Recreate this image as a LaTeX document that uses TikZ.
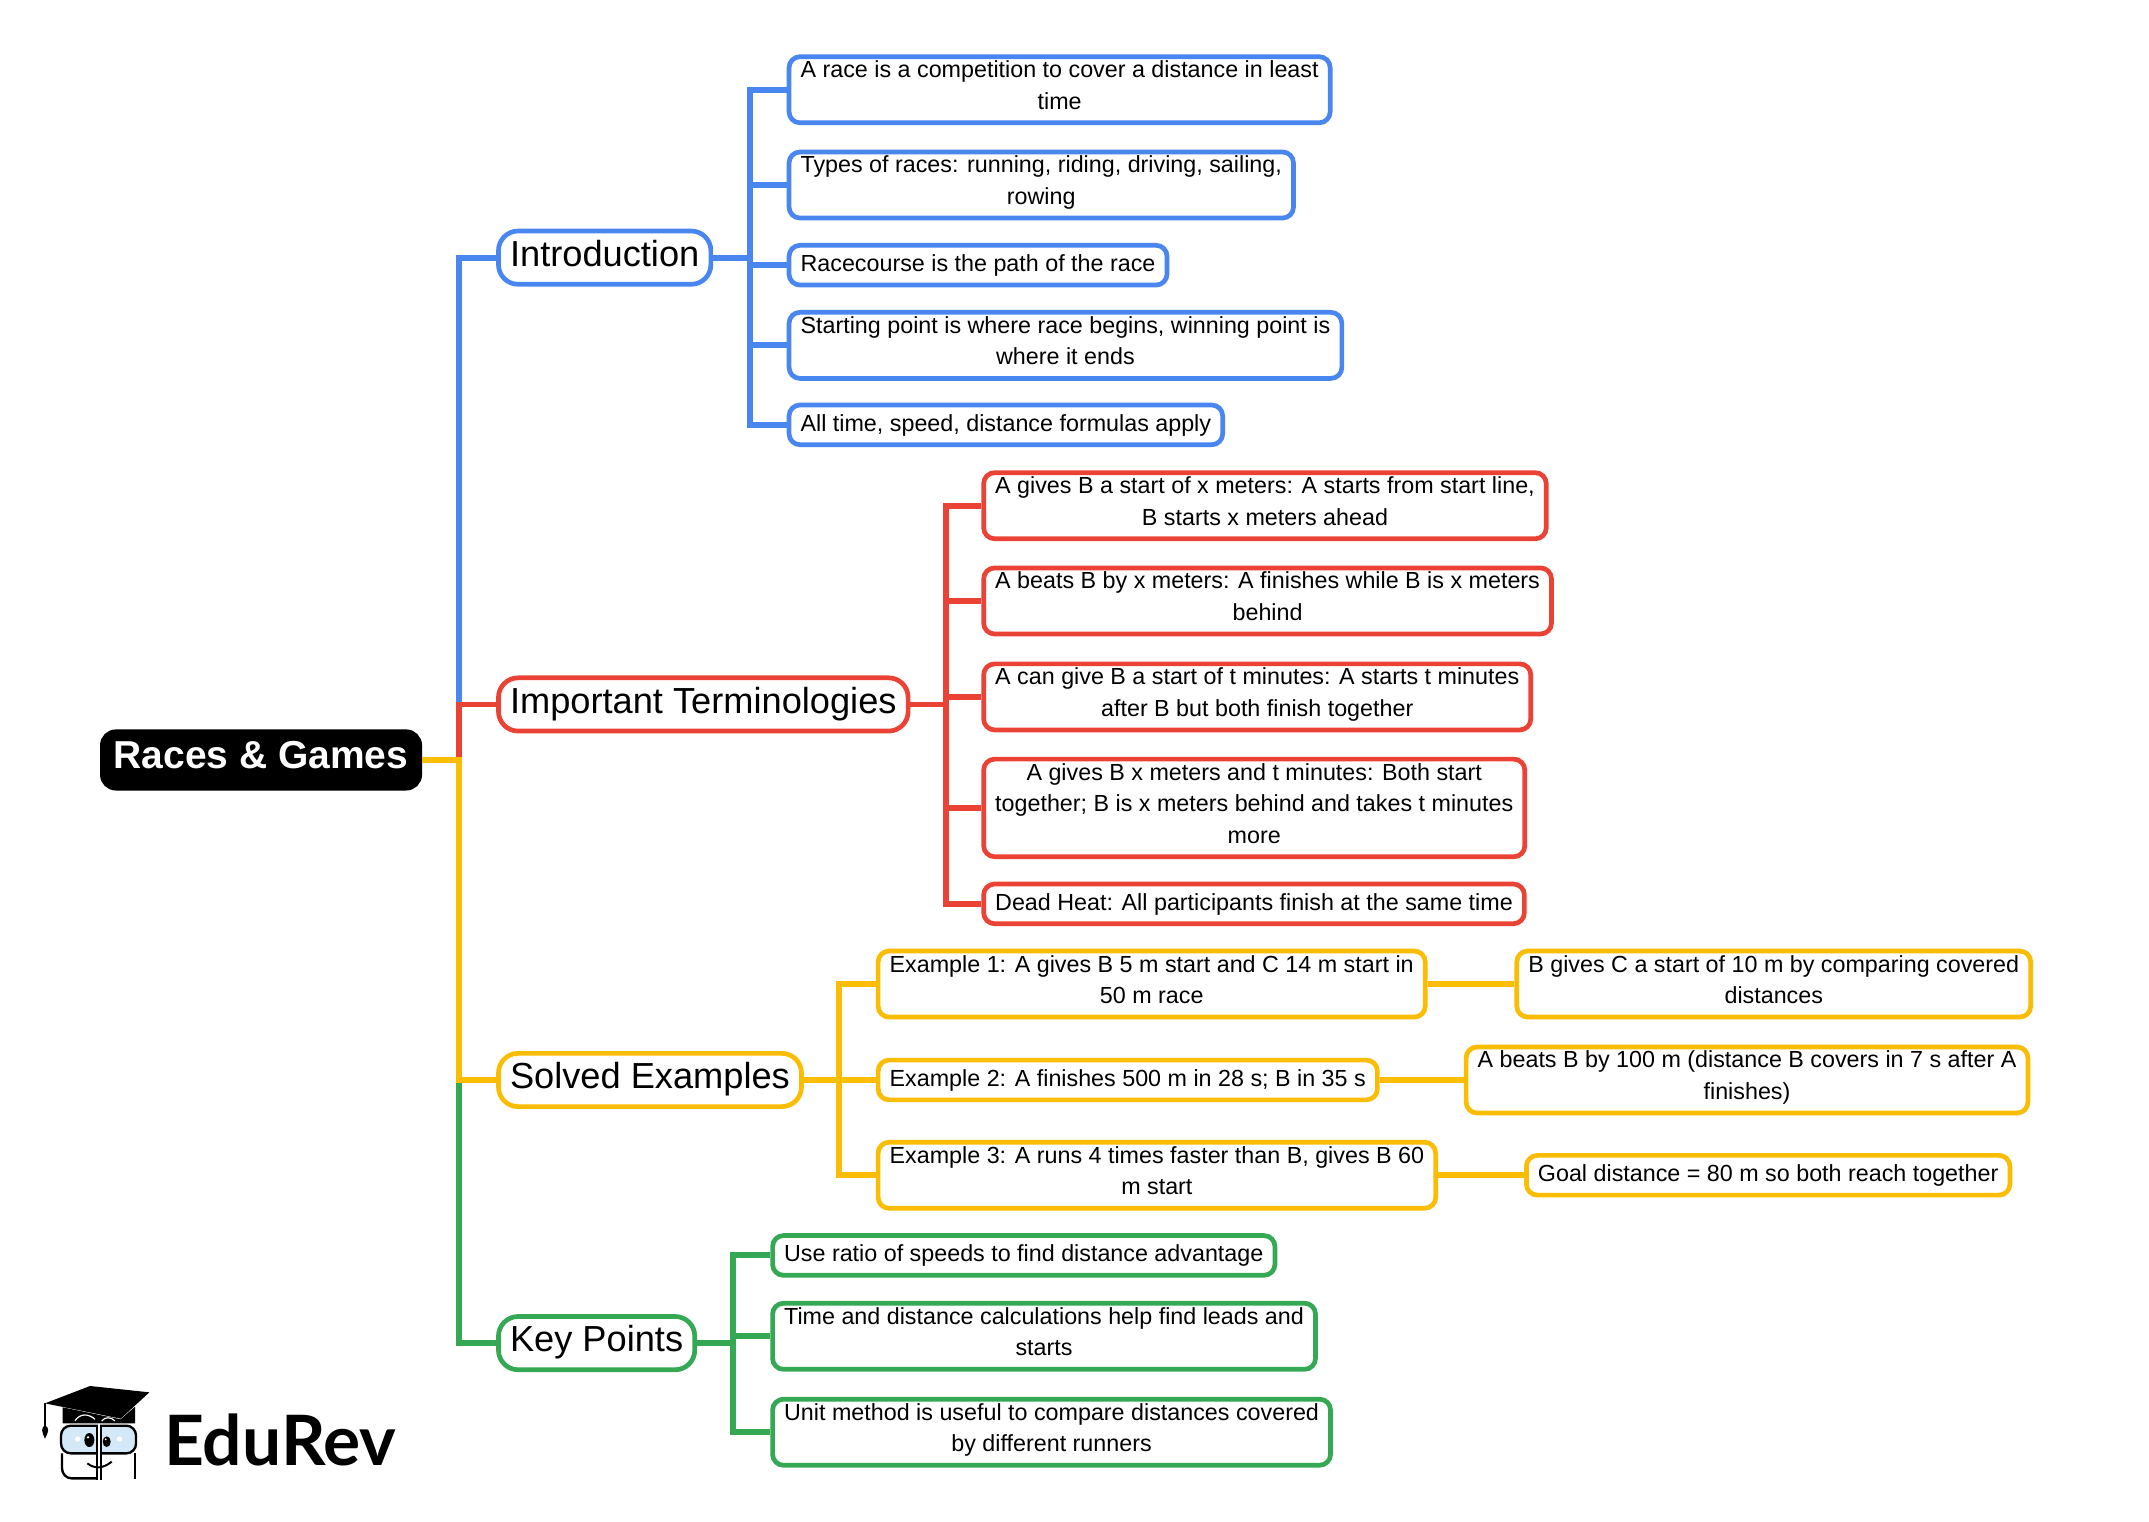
\documentclass[tikz,border=0pt]{standalone}
\usepackage{fontspec}
\usepackage{xcolor}
\setmainfont{Liberation Sans}
\newfontfamily\logofont{Lato}

\definecolor{introblue}{HTML}{4A86F0}
\definecolor{termred}{HTML}{EA4335}
\definecolor{solvedyellow}{HTML}{FBBC04}
\definecolor{keygreen}{HTML}{34A853}
\definecolor{glassblue}{HTML}{D3E9F7}

\tikzset{
    rootbox/.style={draw=black, fill=black, text=white, anchor=west, line width=2.2pt,
        rounded corners=7pt, inner xsep=5.9pt, inner ysep=3pt,
        font=\fontsize{19.9}{23}\selectfont\bfseries,
        execute at begin node=\strut},
    branchbox/.style={draw=#1, anchor=west, line width=2.4pt, rounded corners=10pt,
        inner xsep=5.9pt, inner ysep=2.6pt,
        font=\fontsize{18.5}{22}\selectfont,
        execute at begin node=\strut},
    leafbox/.style={draw=#1, anchor=west, line width=2.4pt, rounded corners=5.6pt,
        inner xsep=5.9pt, inner ysep=2.1pt, align=center,
        font=\fontsize{11.9}{16.1}\selectfont,
        execute at begin node=\strut, execute at end node=\strut},
    link/.style={draw=#1, line width=3pt}
}

\begin{document}
\begin{tikzpicture}[x=0.7pt, y=-0.7pt]
    \useasboundingbox (0,0) rectangle (1568,1109.8);

    % centre and main branches
    \node[rootbox] (root) at (73,554.5) {Races \& Games};
    \node[branchbox=introblue] (intro) at (362,188) {Introduction};
    \node[branchbox=termred] (termin) at (362,514) {Important Terminologies};
    \node[branchbox=solvedyellow] (solved) at (362,788) {Solved Examples};
    \node[branchbox=keygreen] (keypts) at (362,980) {Key Points};

    % introduction
    \node[leafbox=introblue] (intro1) at (574,65.5) {A race is a competition to cover a distance in least\\time};
    \node[leafbox=introblue] (intro2) at (574,135) {Types of races: running, riding, driving, sailing,\\rowing};
    \node[leafbox=introblue] (intro3) at (574,193.5) {Racecourse is the path of the race};
    \node[leafbox=introblue] (intro4) at (574,252) {Starting point is where race begins, winning point is\\where it ends};
    \node[leafbox=introblue] (intro5) at (574,310) {All time, speed, distance formulas apply};

    % terminologies
    \node[leafbox=termred] (termin1) at (716,369) {A gives B a start of x meters: A starts from start line,\\B starts x meters ahead};
    \node[leafbox=termred] (termin2) at (716,438.5) {A beats B by x meters: A finishes while B is x meters\\behind};
    \node[leafbox=termred] (termin3) at (716,508.5) {A can give B a start of t minutes: A starts t minutes\\after B but both finish together};
    \node[leafbox=termred] (termin4) at (716,589.5) {A gives B x meters and t minutes: Both start\\together; B is x meters behind and takes t minutes\\more};
    \node[leafbox=termred] (termin5) at (716,659.5) {Dead Heat: All participants finish at the same time};

    % examples
    \node[leafbox=solvedyellow] (solved1) at (639,718) {Example 1: A gives B 5 m start and C 14 m start in\\50 m race};
    \node[leafbox=solvedyellow] (solved2) at (639,788) {Example 2: A finishes 500 m in 28 s; B in 35 s};
    \node[leafbox=solvedyellow] (solved3) at (639,857.5) {Example 3: A runs 4 times faster than B, gives B 60\\m start};
    \node[leafbox=solvedyellow] (answer1) at (1105,718) {B gives C a start of 10 m by comparing covered\\distances};
    \node[leafbox=solvedyellow] (answer2) at (1068,788) {A beats B by 100 m (distance B covers in 7 s after A\\finishes)};
    \node[leafbox=solvedyellow] (answer3) at (1112,857.5) {Goal distance = 80 m so both reach together};

    % key points
    \node[leafbox=keygreen] (keypts1) at (562,916) {Use ratio of speeds to find distance advantage};
    \node[leafbox=keygreen] (keypts2) at (562,975) {Time and distance calculations help find leads and\\starts};
    \node[leafbox=keygreen] (keypts3) at (562,1045) {Unit method is useful to compare distances covered\\by different runners};

    % connectors
    \coordinate (trunk) at (335,554.5);
    \coordinate (introbus) at (547,188);
    \coordinate (terminbus) at (690,514);
    \coordinate (solvedbus) at (612,788);
    \coordinate (keyptsbus) at (535,980);

    \draw[link=introblue] (trunk |- termin.west) |- (intro.west);
    \draw[link=termred] (trunk) |- (termin.west);
    \draw[link=keygreen] (trunk |- solved.west) |- (keypts.west);
    \draw[link=solvedyellow] (root.east) -- (trunk) |- (solved.west);

    \draw[link=introblue] (intro.east) -- (introbus);
    \foreach \n in {intro1,intro2,intro3,intro4,intro5}
        \draw[link=introblue] (introbus) |- (\n.west);
    \draw[link=termred] (termin.east) -- (terminbus);
    \foreach \n in {termin1,termin2,termin3,termin4,termin5}
        \draw[link=termred] (terminbus) |- (\n.west);
    \draw[link=solvedyellow] (solved.east) -- (solvedbus);
    \foreach \n in {solved1,solved2,solved3}
        \draw[link=solvedyellow] (solvedbus) |- (\n.west);
    \draw[link=keygreen] (keypts.east) -- (keyptsbus);
    \foreach \n in {keypts1,keypts2,keypts3}
        \draw[link=keygreen] (keyptsbus) |- (\n.west);
    \draw[link=solvedyellow] (solved1.east) -- (answer1.west);
    \draw[link=solvedyellow] (solved2.east) -- (answer2.west);
    \draw[link=solvedyellow] (solved3.east) -- (answer3.west);

    % logo
    \begin{scope}[shift={(0,992.3)}, x=0.1703pt, y=-0.1703pt]
        \fill (135,130) -- (270,78) -- (448,97) -- (362,176) -- cycle;
        \fill (188,142) -- (362,178) -- (405,140) -- (405,190) -- (188,190) -- cycle;
        \draw[line width=0.9pt] (135,130) -- (135,198);
        \fill (135,195) .. controls (122,205) and (125,215) .. (135,236) .. controls (146,215) and (149,205) .. (135,195) -- cycle;
        \draw[white, line width=0.6pt] (225,182) .. controls (240,160) and (265,160) .. (285,178);
        \draw[white, line width=0.6pt] (305,183) .. controls (315,170) and (332,170) .. (345,183);
        \draw[fill=glassblue, line width=1.2pt, rounded corners=5pt] (183,197) rectangle (408,280);
        \draw[line width=1.2pt, rounded corners=5pt] (186,280) -- (186,355) -- (290,355);
        \draw[line width=1.2pt, rounded corners=5pt] (405,280) -- (405,358);
        \draw[line width=1.2pt] (291,197) -- (291,360);
        \draw[line width=1.2pt] (302,197) -- (302,360);
        \fill[white] (294,192) rectangle (299,362);
        \fill (268,240) ellipse [x radius=15, y radius=21];
        \fill (320,245) ellipse [x radius=12, y radius=16];
        \fill[white] (264,232) circle (4);
        \fill[white] (317,238) circle (3);
        \fill[white] (233,237) circle (8);
        \fill[white] (358,237) circle (8);
        \draw[line width=1pt] (262,310) .. controls (285,328) and (310,325) .. (335,305);
    \end{scope}
    \node[anchor=base west, inner sep=0pt, font=\fontsize{35.5}{40}\logofont\bfseries] (logotext) at (119.5,1069.5) {EduRev};
\end{tikzpicture}
\end{document}
